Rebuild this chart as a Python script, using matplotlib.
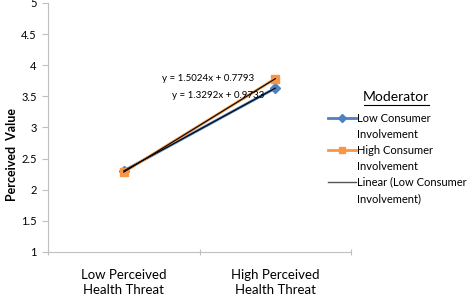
import numpy as np
import matplotlib.pyplot as plt
from matplotlib.lines import Line2D

plt.rcParams['font.family'] = ['Lato', 'DejaVu Sans']

categories = ["Low Perceived\nHealth Threat", "High Perceived\nHealth Threat"]
x_vals = [1, 2]
low_involvement = [2.3025, 3.6317]
high_involvement = [2.2817, 3.7841]
series_labels = ["Low Consumer\nInvolvement", "High Consumer\nInvolvement",
                 "Linear (Low Consumer\nInvolvement)"]

blue = '#4F81BD'
orange = '#F79646'
axis_gray = '#BFBFBF'

fig = plt.figure(figsize=(4.74, 2.94), dpi=100)
ax = fig.add_axes([0.101, 0.143, 0.640, 0.847])

ax.plot(x_vals, low_involvement, color=blue, lw=2, marker='D', ms=5, zorder=3)
ax.plot(x_vals, high_involvement, color=orange, lw=2, marker='s', ms=6, zorder=3)

# trendlines
xs = np.array(x_vals)
m1, b1 = np.polyfit(xs, low_involvement, 1)
m2, b2 = np.polyfit(xs, high_involvement, 1)
ax.plot(xs, m1 * xs + b1, color='black', lw=0.8, zorder=4)
ax.plot(xs, m2 * xs + b2, color='black', lw=0.8, zorder=4)

ax.text(1.556, 3.79, f"y = {m2:.4f}x + {b2:.4f}", fontsize=7, ha='center', va='center')
ax.text(1.622, 3.52, f"y = {m1:.4f}x + {b1:.4f}", fontsize=7, ha='center', va='center')

ax.set_xlim(0.5, 2.5)
ax.set_ylim(1, 5)
ax.set_yticks(np.arange(1, 5.01, 0.5))
ax.set_yticklabels(["1", "1.5", "2", "2.5", "3", "3.5", "4", "4.5", "5"], fontsize=8)
ax.set_xticks([0.5, 1.5, 2.5])
ax.set_xticklabels([])
ax.set_xticks(x_vals, minor=True)
ax.set_xticklabels(categories, minor=True, fontsize=9.5, linespacing=1.35)
ax.tick_params(axis='x', which='minor', length=0, pad=12)
ax.tick_params(axis='x', which='major', length=5, color=axis_gray, direction='inout')
ax.tick_params(axis='y', length=4, color=axis_gray, direction='out', pad=4)

for s in ['top', 'right']:
    ax.spines[s].set_visible(False)
for s in ['left', 'bottom']:
    ax.spines[s].set_color(axis_gray)

ax.set_ylabel("Perceived  Value", fontsize=9, fontweight='bold')
ax.yaxis.set_label_coords(-0.10, 0.39)

# legend drawn by hand so the wrapped lines get Excel-like spacing
W, H = 474, 294
handles = [dict(color=blue, lw=2, marker='D', ms=4),
           dict(color=orange, lw=2, marker='s', ms=5),
           dict(color='#555555', lw=1)]
entry_y = [118, 150, 182]
for style, label, y0 in zip(handles, series_labels, entry_y):
    fig.add_artist(Line2D([328 / W, 356 / W], [1 - y0 / H, 1 - y0 / H],
                          markevery=[], transform=fig.transFigure, **style))
    if 'marker' in style:
        fig.add_artist(Line2D([342 / W], [1 - y0 / H], transform=fig.transFigure,
                              linestyle='none', **{k: v for k, v in style.items() if k != 'lw'}))
    for j, line in enumerate(label.split("\n")):
        fig.text(357 / W, 1 - (y0 + 16.5 * j) / H, line, fontsize=8, va='center', ha='left')

fig.text(0.836, 0.655, "Moderator", fontsize=10, ha='center', va='baseline')
fig.add_artist(Line2D([0.768, 0.905], [0.643, 0.643], color='black', lw=0.8,
                      transform=fig.transFigure))

fig.savefig("out.png", dpi=100)
